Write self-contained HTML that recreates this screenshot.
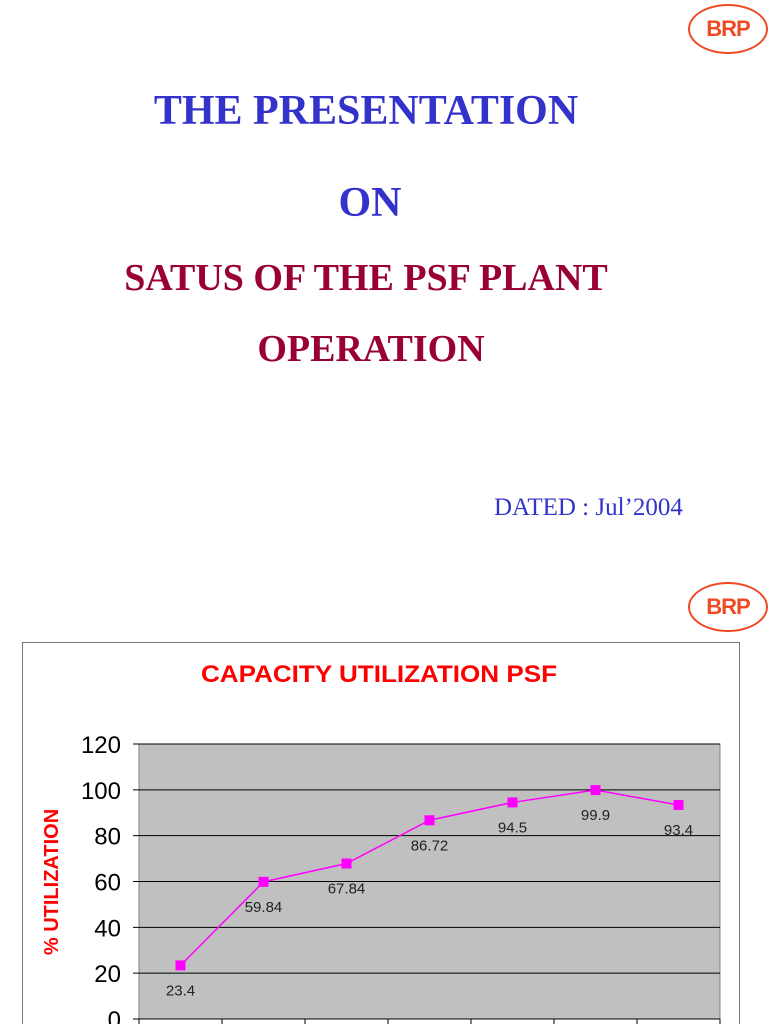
<!DOCTYPE html>
<html><head><meta charset="utf-8"><style>
body{margin:0;width:768px;height:1024px;overflow:hidden;background:#fff;position:relative;font-family:"Liberation Serif",serif}
.t{position:absolute;left:0;width:732px;text-align:center;font-weight:bold;margin:0;white-space:nowrap}
.logo{position:absolute;width:76px;height:46px;border:2px solid #ef4a23;border-radius:50%;text-align:center;line-height:46px;font-family:"Liberation Sans",sans-serif;font-weight:bold;color:#ef4a23;font-size:22px;letter-spacing:-1px}
</style></head><body>
<div class="logo" style="left:688px;top:4px">BRP</div>
<div class="t" style="top:87px;font-size:42px;color:#3333cc">THE PRESENTATION</div>
<div class="t" style="top:179px;font-size:42px;color:#3333cc;width:740px">ON</div>
<div class="t" style="top:256px;font-size:38px;color:#990033">SATUS OF THE PSF PLANT</div>
<div class="t" style="top:327px;font-size:38px;color:#990033;width:742px">OPERATION</div>
<div style="position:absolute;left:494px;top:494px;font-size:25px;color:#3333cc">DATED : Jul’2004</div>
<div class="logo" style="left:688px;top:582px">BRP</div>
<svg id="chart" width="768" height="1024" style="position:absolute;left:0;top:0">
<rect x="22.5" y="642.5" width="717" height="400" fill="#fff" stroke="#777"/>
<text x="379" y="682" text-anchor="middle" font-family="Liberation Sans,sans-serif" font-weight="bold" font-size="24" fill="#ff0000" textLength="356" lengthAdjust="spacingAndGlyphs">CAPACITY UTILIZATION PSF</text>
<text transform="translate(58,882) rotate(-90)" text-anchor="middle" font-family="Liberation Sans,sans-serif" font-weight="bold" font-size="20" fill="#ff0000">% UTILIZATION</text>
<g id="g"></g>
</svg>
<script>
const categories=["1","2","3","4","5","6","7"];
const values=[23.4,59.84,67.84,86.72,94.5,99.9,93.4];
const labels=["23.4","59.84","67.84","86.72","94.5","99.9","93.4"];
const yTicks=[0,20,40,60,80,100,120];
const NS="http://www.w3.org/2000/svg";
const L=139,R=720,T=744,B=1019,ymax=120;
const cw=(R-L)/categories.length;
const x=i=>L+cw*(i+0.5);
const y=v=>B-(v/ymax)*(B-T);
const g=document.getElementById('g');
function mk(t,a){const e=document.createElementNS(NS,t);for(const k in a)e.setAttribute(k,a[k]);g.appendChild(e);return e;}
let e=mk('rect',{x:L,y:T,width:R-L,height:B-T,fill:'#c0c0c0',stroke:'#808080'});


yTicks.forEach(v=>{
 let l=mk('line',{x1:L-6,x2:R,y1:y(v),y2:y(v),stroke:'#000','stroke-width':1});
 
 
 let t=mk('text',{x:L-18,y:y(v)+9,'text-anchor':'end','font-family':'Liberation Sans,sans-serif','font-size':24,fill:'#000'});
 t.textContent=v;
 
 
});
for(let i=0;i<=categories.length;i++){
 let l=mk('line',{x1:L+cw*i,x2:L+cw*i,y1:B,y2:B+6,stroke:'#000'});
 
 
}
let p=mk('polyline',{points:values.map((v,i)=>x(i)+','+y(v)).join(' '),fill:'none',stroke:'#ff00ff','stroke-width':1.5});


values.forEach((v,i)=>{
 let r=mk('rect',{x:x(i)-5,y:y(v)-5,width:10,height:10,fill:'#ff00ff'});
 
 
 let t=mk('text',{x:x(i),y:y(v)+30,'text-anchor':'middle','font-family':'Liberation Sans,sans-serif','font-size':15,fill:'#222'});
 t.textContent=labels[i];
 
 
});
</script>
</body></html>
